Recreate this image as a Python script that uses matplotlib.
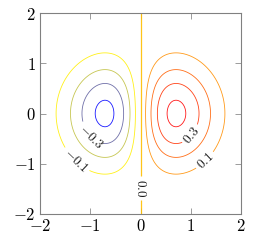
import matplotlib
matplotlib.use("Agg")
import matplotlib.pyplot as plt
import numpy as np
from matplotlib.colors import LinearSegmentedColormap, Normalize

plt.rcParams["mathtext.fontset"] = "cm"
plt.rcParams["font.family"] = "serif"

# contour levels of z = x * exp(-x^2 - y^2), as drawn in the reference
levels = [-0.4, -0.3, -0.2, -0.1, 0.0, 0.1, 0.2, 0.3, 0.4]
label_spots = {
    -0.3: (-1.0, -0.47),
    -0.1: (-1.34, -0.99),
    0.0: (0.0, -1.48),
    0.1: (1.32, -0.97),
    0.3: (1.02, -0.43),
}
ticks = [-2, -1, 0, 1, 2]

# pgfplots "hot" colormap: blue -> yellow -> orange -> red
hot = LinearSegmentedColormap.from_list(
    "pgf_hot", [(0, 0, 1), (1, 1, 0), (1, 0.5, 0), (1, 0, 0)]
)
norm = Normalize(vmin=-0.4, vmax=0.4)

# even point count so x = 0 falls between grid columns
xs = np.linspace(-2, 2, 300)
ys = np.linspace(-2, 2, 300)
X, Y = np.meshgrid(xs, ys)
Z = X * np.exp(-X**2 - Y**2)

fig = plt.figure(figsize=(2.54, 2.44), dpi=100)
ax = fig.add_axes([40 / 254, 1 - 214 / 244, 201 / 254, 201 / 244])

# one contour set per level so each label can be placed by hand
for lv in levels:
    cs = ax.contour(X, Y, Z, levels=[lv], colors=[hot(norm(lv))],
                    linewidths=0.9 if lv == 0.0 else 0.6, alpha=0.9,
                    negative_linestyles="solid")
    if lv in label_spots:
        txt = ax.clabel(cs, inline=True, fontsize=9.5, colors="black",
                        fmt=lambda v: f"${v:.1f}$", manual=[label_spots[lv]],
                        inline_spacing=3)
        if lv == 0.0:
            txt[0].set_rotation(-90)

ax.set_xlim(-2, 2)
ax.set_ylim(-2, 2)
ax.set_xticks(ticks)
ax.set_yticks(ticks)
ax.set_xticklabels([f"${t}$" for t in ticks])
ax.set_yticklabels([f"${t}$" for t in ticks])
ax.tick_params(direction="in", length=4, width=0.6, color="0.55",
               top=True, right=True, labelsize=12, pad=3)
for s in ax.spines.values():
    s.set_color("0.5")
    s.set_linewidth(0.8)

fig.savefig("out.png", dpi=100)
